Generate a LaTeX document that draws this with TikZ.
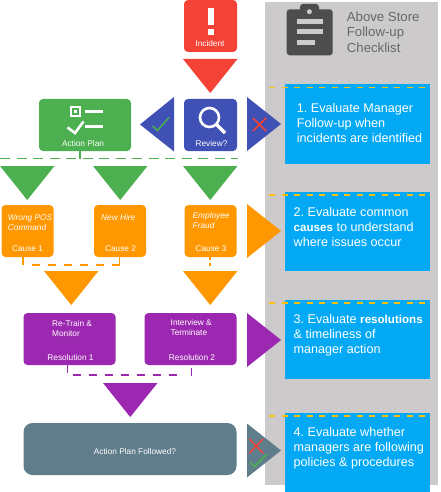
\documentclass[tikz,border=0pt]{standalone}
\usepackage{fontspec}
\setmainfont{Liberation Sans}
\usepackage{xcolor}
\usetikzlibrary{calc,arrows.meta,positioning}
\definecolor{redc}{HTML}{F44336}
\definecolor{grnc}{HTML}{4CAF50}
\definecolor{indc}{HTML}{3F51B5}
\definecolor{orgc}{HTML}{FF9800}
\definecolor{purc}{HTML}{9C27B0}
\definecolor{slac}{HTML}{607D8B}
\definecolor{bluc}{HTML}{03A9F4}
\definecolor{panc}{HTML}{CCCACA}
\definecolor{yelc}{HTML}{FFC107}
\definecolor{icoc}{HTML}{4D4D4D}
\frenchspacing
\newcommand{\bdw}[1]{{\fontsize{11.6}{15}\selectfont\bfseries #1}}
\tikzset{
  box/.style={rounded corners=4pt,inner sep=0pt,minimum height=52pt},
  chk/.style={fill=bluc,inner sep=0pt,minimum width=145pt,minimum height=79pt},
  lbl/.style={text=white,font=\fontsize{8.3}{10}\selectfont,inner sep=0pt},
  ital/.style={text=white,font=\fontsize{8.3}{10}\selectfont\itshape,inner sep=0pt,anchor=west,align=left},
  chktxt/.style={text=white,font=\fontsize{12.6}{15}\selectfont,inner sep=0pt,anchor=west,align=left},
  lk/.style={line width=1.8pt,dash pattern=on 8pt off 8pt},
  stub/.style={line width=1.8pt}
}
\begin{document}
\begin{tikzpicture}[x=1pt,y=-1pt]
\useasboundingbox (0,0) rectangle (440,492);
\fill[panc] (264.5,2) rectangle (438,485);
% checklist boxes
\node[chk] (chka) at (357.5,124) {};
\node[chk] (chkb) at (357.5,231.5) {};
\node[chk] (chkc) at (357.5,339.5) {};
\node[chk] (chkd) at (357.5,452.5) {};
\foreach \yy in {87.5,195,303,416}
  \draw[yelc,line width=1.5pt,dash pattern=on 6pt off 6.5pt] (269,\yy) -- (426,\yy);
\node[chktxt] (chkatxt) at (296.7,122.5) {1. Evaluate Manager\\Follow-up when\\incidents are identified};
\node[chktxt] (chkbtxt) at (293.5,227) {2. Evaluate common\\\bdw{causes} to understand\\where issues occur};
\node[chktxt] (chkctxt) at (293.5,335) {3. Evaluate \bdw{resolutions}\\\& timeliness of\\manager action};
\node[chktxt] (chkdtxt) at (293.5,448) {4. Evaluate whether\\managers are following\\policies \& procedures};
% clipboard
\fill[icoc,rounded corners=3pt] (286.7,9.3) rectangle (332.7,55.3);
\fill[icoc,rounded corners=3pt] (300,4) rectangle (319,14);
\fill[panc] (309.4,11.7) circle (2.5);
\fill[panc] (296.7,19.3) rectangle (322.7,24.3);
\fill[panc] (296.7,29.3) rectangle (322.7,34.3);
\fill[panc] (296.7,40) rectangle (315,45);
\node[anchor=west,inner sep=0pt,align=left,text=icoc!85,font=\fontsize{13.2}{15.7}\selectfont] (chkhead) at (346.7,32) {Above Store\\Follow-up\\Checklist};
% down triangles
\foreach \xa/\ya/\cc in {183/59/redc,0/166/grnc,93/166/grnc,183/166/grnc,44/271/orgc,183/271/orgc,103/383/purc}
  \fill[\cc] (\xa,\ya) -- ++(54.5,0) -- ++(-27.25,34) -- cycle;
% side triangles
\fill[indc] (174,97) -- (174,151.5) -- (140,124.5) -- cycle;
\foreach \ya/\cc in {97/indc,204/orgc,313/purc,423.5/slac}
  \fill[\cc] (247,\ya) -- ++(0,54) -- ++(34,-27) -- cycle;
% nodes
\node[box,fill=redc,minimum width=53pt] (incident) at (210.5,26) {};
\node[box,fill=indc,minimum width=53pt] (review) at (210.5,125) {};
\node[box,fill=grnc,minimum width=92pt] (plan) at (85,125) {};
\node[box,fill=orgc,minimum width=52pt] (causea) at (27.5,231) {};
\node[box,fill=orgc,minimum width=52pt] (causeb) at (120,231) {};
\node[box,fill=orgc,minimum width=52pt] (causec) at (210.5,231) {};
\node[box,fill=purc,minimum width=92pt] (resa) at (69.5,339) {};
\node[box,fill=purc,minimum width=92pt] (resb) at (190.5,339) {};
\node[box,fill=slac,minimum width=213pt,rounded corners=9pt] (followed) at (130,449) {};
% labels
\node[lbl] (incidentlbl) at (210,44) {Incident};
\node[lbl] (reviewlbl) at (211.5,144) {Review?};
\node[lbl] (planlbl) at (83,144) {Action Plan};
\node[lbl] (causealbl) at (27.5,249) {Cause 1};
\node[lbl] (causeblbl) at (120.5,249) {Cause 2};
\node[lbl] (causeclbl) at (211,249) {Cause 3};
\node[ital] (causeatxt) at (7.7,222.7) {Wrong POS\\Command};
\node[ital] (causebtxt) at (101,217.7) {New Hire};
\node[ital] (causectxt) at (192.5,221) {Employee\\Fraud};
\node[lbl,anchor=west,align=left] (resatxt) at (52,329) {Re-Train \&\\Monitor};
\node[lbl,anchor=west,align=left] (resbtxt) at (170.5,328) {Interview \&\\Terminate};
\node[lbl] (resalbl) at (70.5,357.5) {Resolution 1};
\node[lbl] (resblbl) at (192,357.5) {Resolution 2};
\node[lbl] (followedlbl) at (135,451.5) {Action Plan Followed?};
% connectors
\coordinate (gl) at (0,158.5);
\coordinate (gr) at (238,158.5);
\coordinate (gdrop) at (80,158.5);
\draw[grnc,lk,dash pattern=on 10pt off 6.5pt] (gl) -- (gr);
\draw[grnc,stub] (plan.south -| gdrop) -- (gdrop);
\coordinate (oa) at (23,265);
\coordinate (ob) at (119.5,265);
\draw[orgc,stub] (causea.south -| oa) -- (oa);
\draw[orgc,stub] (causeb.south -| ob) -- (ob);
\draw[orgc,lk] (oa) ++(9,0) -- (ob);
\coordinate (oc) at (210,267);
\draw[orgc,stub,dash pattern=on 3pt off 3pt] (causec.south -| oc) -- (oc);
\coordinate (pa) at (67.5,373);
\coordinate (pb) at (191.5,376);
\coordinate (pl) at (73,375);
\coordinate (pr) at (184,375);
\draw[purc,stub] (resa.south -| pa) -- (pa);
\draw[purc,stub] ($(resb.south -| pb)+(0,3)$) -- (pb);
\draw[purc,lk] (pl) -- (pr);
% icons
\fill[white] (208,8.5) rectangle (214,25);
\fill[white] (208,29) rectangle (214,35);
\draw[white,line width=2.6pt] (209.5,117.5) circle (9.5);
\draw[white,line width=3.4pt] (216.5,124.5) -- (225,133);
\draw[white,line width=2pt] (71,107) rectangle (80,116);
\fill[white] (74,110) rectangle (77,113);
\fill[white] (85,110) rectangle (103,113.5);
\fill[white] (85,124.5) rectangle (103,128);
\draw[white,line width=2.6pt] (67.5,127.5) -- (75,133) -- (83.5,121.5);
\draw[grnc,line width=1.5pt] (152.5,126) -- (157.5,130.5) -- (169,117.5);
\draw[redc,line width=1.5pt] (253,118) -- (266,131) (253,131) -- (266,118);
\draw[redc,line width=1.5pt] (249.5,439) -- (263,453) (249.5,453) -- (263,439);
\draw[grnc,line width=1.5pt] (250,462.3) -- (254.3,466.7) -- (266.7,454.3);
\end{tikzpicture}
\end{document}
